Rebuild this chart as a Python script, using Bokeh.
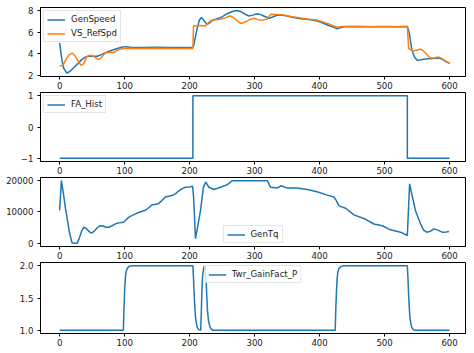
from bokeh.plotting import figure
from bokeh.layouts import column
from bokeh.models import FixedTicker, Range1d, Legend, LegendItem
from bokeh.embed import file_html
from bokeh.resources import INLINE

# ---------------- data ----------------
x_ticks = [0, 100, 200, 300, 400, 500, 600]

gen_speed_t = [0, 3, 6, 11, 16, 22, 28, 34, 40, 45, 52, 58, 65, 75, 85, 95, 101, 110, 130, 150, 170, 190, 204,
               206, 209, 212, 215, 218, 222, 227, 231, 235, 241, 248, 254, 261, 267, 273, 279, 285, 291, 297,
               304, 309, 314, 322, 328, 335, 342, 350, 358, 366, 374, 381, 388, 396, 404, 414, 421, 427, 432,
               437, 450, 480, 500, 520, 535, 538, 542, 546, 550, 556, 565, 575, 583, 589, 594, 600]
gen_speed = [5.0, 3.6, 2.7, 2.23, 2.4, 2.75, 3.1, 3.47, 3.72, 3.8, 3.78, 3.78, 3.95, 4.22, 4.42, 4.6, 4.66, 4.6,
             4.58, 4.6, 4.57, 4.58, 4.57, 4.7, 5.6, 6.44, 7.1, 7.33, 7.05, 6.7, 6.85, 7.09, 7.2, 7.33, 7.55,
             7.77, 7.9, 7.97, 7.88, 7.65, 7.47, 7.55, 7.68, 7.62, 7.47, 7.26, 7.38, 7.56, 7.55, 7.47, 7.35,
             7.26, 7.2, 7.17, 7.1, 7.02, 6.85, 6.6, 6.45, 6.29, 6.4, 6.49, 6.5, 6.48, 6.5, 6.48, 6.5, 5.9,
             4.36, 3.7, 3.42, 3.45, 3.54, 3.58, 3.62, 3.5, 3.3, 3.12]

ref_spd_t = [0, 5, 9, 14, 19, 24, 29, 33, 37, 42, 46, 50, 55, 60, 65, 70, 77, 83, 90, 96, 101, 120, 150, 180,
             205, 206, 215, 224, 232, 240, 248, 255, 262, 267, 272, 278, 283, 289, 294, 299, 304, 309, 314,
             319, 323, 325, 335, 345, 356, 366, 381, 396, 404, 412, 420, 427, 435, 460, 500, 535, 537, 541,
             545, 550, 555, 559, 563, 567, 571, 577, 583, 587, 591, 595, 600]
ref_spd = [2.89, 2.95, 3.4, 3.9, 4.07, 3.8, 3.25, 2.94, 3.1, 3.77, 3.87, 3.85, 3.65, 3.47, 3.7, 4.07, 4.15,
           4.12, 4.36, 4.47, 4.51, 4.5, 4.52, 4.5, 4.5, 6.55, 6.6, 6.55, 7.02, 7.12, 7.17, 7.3, 7.47, 7.35,
           7.1, 6.79, 6.85, 7.02, 7.18, 7.26, 7.16, 7.09, 7.12, 7.17, 7.5, 7.62, 7.6, 7.56, 7.42, 7.33, 7.2,
           7.1, 6.95, 6.79, 6.6, 6.44, 6.5, 6.5, 6.48, 6.5, 4.51, 4.35, 4.27, 4.35, 4.42, 4.3, 4.07, 3.8,
           3.62, 3.65, 3.71, 3.6, 3.47, 3.3, 3.12]

fa_hist_t = [0, 205, 205, 535, 535, 600]
fa_hist = [-1, -1, 1, 1, -1, -1]

gen_tq_t = [0, 2.6, 6, 9, 11.3, 15, 19, 22, 26.7, 30, 34, 37, 41, 45, 48.7, 53, 58, 62.6, 67, 71, 75.4, 80,
            86, 90.8, 98.5, 102, 106, 114, 121.5, 131.8, 137, 142, 152, 157, 162.6, 172.8, 178, 183, 188,
            193.4, 200, 204.6, 206, 209, 213, 217, 221, 224.6, 229.7, 237.4, 247.7, 258, 262, 265.7, 319.5,
            324.6, 335, 341, 349, 365.7, 381, 396, 411.8, 422, 426, 429.7, 440, 452.8, 468, 483.5, 496.5,
            509, 524.6, 535, 538.5, 542, 547.7, 555.4, 560, 564.6, 570, 575.9, 582, 588.7, 595, 599]
gen_tq = [10500, 19900, 15500, 11000, 8240, 3500, 200, 0, 0, 1500, 4000, 5100, 4700, 3800, 3250, 3800, 5000,
          5600, 5500, 5100, 5100, 5500, 6200, 6500, 6700, 7400, 8250, 9100, 9800, 10500, 11300, 12200,
          12600, 13500, 14700, 15200, 15700, 16600, 17300, 17800, 17900, 18100, 15000, 1500, 6000, 10800,
          17600, 19500, 17800, 17100, 17800, 18650, 19300, 19900, 19900, 17800, 17600, 18300, 17600,
          17600, 17100, 16400, 15300, 14700, 13500, 11900, 11150, 9050, 7900, 6150, 5600, 4300, 3550,
          2500, 18900, 15500, 10300, 6150, 4200, 3550, 3800, 4600, 4200, 3550, 3600, 3750]

gain_t = [0, 98, 99, 100, 101, 102, 104, 107, 111, 205, 206, 207, 208, 209, 210.5, 212, 214, 217, 218, 219,
          220, 221.5, 223, 224.5, 225.5, 226.5, 227.5, 229, 231, 233, 236, 424, 425, 426, 427, 428, 430,
          433, 437, 535, 536, 537, 538, 539, 540.5, 542, 544, 547, 600]
gain = [1.0, 1.0, 1.35, 1.62, 1.8, 1.9, 1.96, 1.99, 2.0, 2.0, 1.8, 1.55, 1.35, 1.2, 1.1, 1.04, 1.01, 1.0, 1.3,
        1.65, 1.85, 1.96, 2.0, 1.95, 1.75, 1.5, 1.3, 1.15, 1.06, 1.02, 1.0, 1.0, 1.35, 1.62, 1.8, 1.9,
        1.96, 1.99, 2.0, 2.0, 1.8, 1.55, 1.35, 1.2, 1.1, 1.04, 1.01, 1.0, 1.0]

y1_ticks = [2, 4, 6, 8]
y2_ticks = [-1, 0, 1]
y2_labels = ["\u22121", "0", "1"]
y3_ticks = [0, 10000, 20000]
y4_ticks = [1.0, 1.5, 2.0]
y4_labels = ["1.0", "1.5", "2.0"]

BLUE = "#1f77b4"
ORANGE = "#ff7f0e"
FONT = "DejaVu Sans"
FS = "8.6px"
TXT = "#1a1a1a"


def make_fig(height, top, bottom, yr, yticks, ylabels=None):
    p = figure(width=474, height=height, x_range=Range1d(-29.5, 624.5), y_range=Range1d(*yr),
               output_backend="svg", toolbar_location=None,
               min_border_left=40, min_border_right=9, min_border_top=top, min_border_bottom=bottom)
    p.xgrid.visible = False
    p.ygrid.visible = False
    p.outline_line_color = "black"
    p.outline_line_width = 1
    p.background_fill_color = "white"
    p.border_fill_color = "white"
    p.xaxis.ticker = FixedTicker(ticks=x_ticks)
    p.yaxis.ticker = FixedTicker(ticks=yticks)
    if ylabels is not None:
        p.yaxis.major_label_overrides = {t: l for t, l in zip(yticks, ylabels)}
    for ax in (p.xaxis, p.yaxis):
        ax.axis_line_color = "black"
        ax.major_tick_line_color = "black"
        ax.major_tick_out = 3
        ax.major_tick_in = 0
        ax.minor_tick_line_color = None
        ax.major_label_text_font = FONT
        ax.major_label_text_font_size = FS
        ax.major_label_text_color = TXT
    p.xaxis.major_label_standoff = 2
    p.yaxis.major_label_standoff = 4
    return p


def style_legend(items, location):
    lg = Legend(items=items, location=location)
    lg.label_text_font = FONT
    lg.label_text_font_size = FS
    lg.label_text_color = TXT
    lg.label_height = 9
    lg.glyph_height = 9
    lg.glyph_width = 18
    lg.label_standoff = 6
    lg.spacing = 4
    lg.padding = 3
    lg.margin = 3
    lg.border_line_color = "#cccccc"
    lg.border_line_width = 1
    lg.background_fill_alpha = 0.8
    return lg


p1 = make_fig(91, 7, 13, (1.92, 8.25), y1_ticks)
r1 = p1.line(gen_speed_t, gen_speed, line_color=BLUE, line_width=1.5)
r2 = p1.line(ref_spd_t, ref_spd, line_color=ORANGE, line_width=1.5)
p1.add_layout(style_legend([LegendItem(label="GenSpeed", renderers=[r1]),
                            LegendItem(label="VS_RefSpd", renderers=[r2])], "top_left"))

p2 = make_fig(85, 1, 13, (-1.1, 1.1), y2_ticks, y2_labels)
r3 = p2.line(fa_hist_t, fa_hist, line_color=BLUE, line_width=1.5)
p2.add_layout(style_legend([LegendItem(label="FA_Hist", renderers=[r3])], "top_left"))

p3 = make_fig(85, 1, 13, (-1000, 20900), y3_ticks)
r4 = p3.line(gen_tq_t, gen_tq, line_color=BLUE, line_width=1.5)
p3.add_layout(style_legend([LegendItem(label="GenTq", renderers=[r4])], "bottom_center"))

p4 = make_fig(92, 1, 20, (0.95, 2.05), y4_ticks, y4_labels)
r5 = p4.line(gain_t, gain, line_color=BLUE, line_width=1.5)
p4.add_layout(style_legend([LegendItem(label="Twr_GainFact_P", renderers=[r5])], "top_center"))

layout = column(p1, p2, p3, p4, spacing=0)
open("out.html", "w").write(file_html(layout, INLINE))
